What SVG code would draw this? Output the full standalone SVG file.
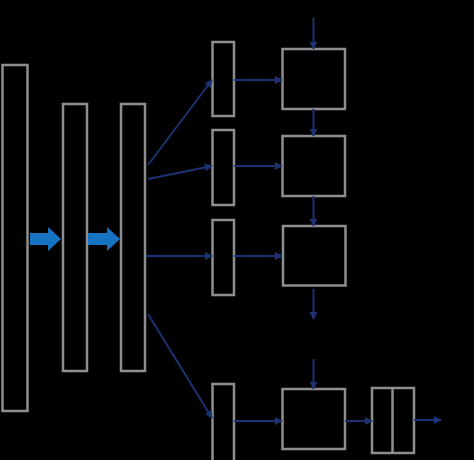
<svg xmlns="http://www.w3.org/2000/svg" width="474" height="460" viewBox="0 0 474 460">
<defs>
<style>
.n{fill:none;stroke:#8e8e8e;stroke-width:2.5}
.c{fill:none;stroke:#1c3272;stroke-width:2;marker-end:url(#ah)}
.b{fill:#1573c2}
</style>
<marker id="ah" viewBox="0 0 10 10" refX="9" refY="5" markerWidth="4" markerHeight="4" orient="auto" markerUnits="strokeWidth">
<path d="M0,0 L10,5 L0,10 z" fill="#1c3272"/>
</marker>
</defs>
<rect width="474" height="460" fill="#000"/>
<g id="n1"><rect class="n" x="2.5" y="65" width="25" height="346"/></g>
<g id="n2"><rect class="n" x="63" y="104" width="24" height="267"/></g>
<g id="n3"><rect class="n" x="121" y="104" width="24" height="267"/></g>
<g id="a1"><rect class="n" x="212.5" y="42" width="21.5" height="74"/></g>
<g id="a2"><rect class="n" x="212.5" y="130" width="21.5" height="75"/></g>
<g id="a3"><rect class="n" x="212.5" y="220" width="21.5" height="75"/></g>
<g id="a4"><rect class="n" x="212.5" y="384" width="21.5" height="80"/></g>
<g id="b1"><rect class="n" x="282.5" y="49" width="62.5" height="60"/></g>
<g id="b2"><rect class="n" x="282.5" y="136" width="62.5" height="60"/></g>
<g id="b3"><rect class="n" x="283" y="226" width="62.5" height="59.5"/></g>
<g id="b4"><rect class="n" x="282.5" y="389" width="62.5" height="60"/></g>
<g id="b5"><rect class="n" x="372" y="388" width="42" height="65"/><line class="n" x1="392.5" y1="388" x2="392.5" y2="453"/></g>
<g id="connectors">
<path class="b" d="M30,233 H48 V227 L61,239 L48,251 V245 H30 z"/>
<path class="b" d="M88,233 H107 V227 L120,239 L107,251 V245 H88 z"/>
<line class="c" x1="313.5" y1="18" x2="313.5" y2="49"/>
<line class="c" x1="313.5" y1="109" x2="313.5" y2="136"/>
<line class="c" x1="313.5" y1="196" x2="313.5" y2="226"/>
<line class="c" x1="313.5" y1="289" x2="313.5" y2="319"/>
<line class="c" x1="313.5" y1="359" x2="313.5" y2="389"/>
<line class="c" x1="234" y1="80" x2="282" y2="80"/>
<line class="c" x1="234" y1="166" x2="282" y2="166"/>
<line class="c" x1="234" y1="256" x2="282" y2="256"/>
<line class="c" x1="234" y1="421" x2="282" y2="421"/>
<line class="c" x1="345" y1="421" x2="372" y2="421"/>
<line class="c" x1="414" y1="420" x2="441" y2="420"/>
<line class="c" x1="148" y1="165" x2="212" y2="80"/>
<line class="c" x1="148" y1="179" x2="212" y2="166"/>
<line class="c" x1="146" y1="256" x2="212" y2="256"/>
<line class="c" x1="148" y1="314" x2="212" y2="418"/>
</g>
</svg>
